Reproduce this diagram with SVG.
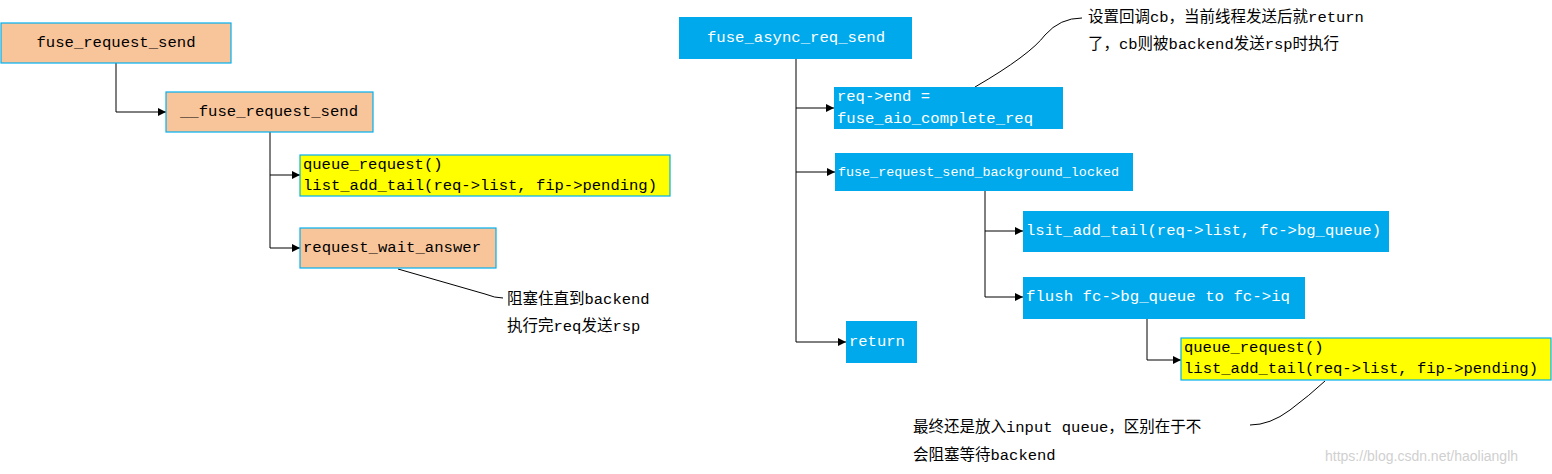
<svg xmlns="http://www.w3.org/2000/svg" width="1552" height="474" viewBox="0 0 1552 474">
<defs>
<style>
.o{fill:#F8C59B;stroke:#00B0F0;stroke-width:1.2}
.y{fill:#FFFF00;stroke:#00B0F0;stroke-width:1.2}
.b{fill:#00A9EC;stroke:none}
text{font-family:"Liberation Mono","Noto Sans CJK SC",monospace;font-size:15.5px;fill:#000;dominant-baseline:central}
.w{fill:#fff}
.c{stroke:#000;stroke-width:1;fill:none}
.n{font-family:"Liberation Mono","Noto Sans CJK SC",monospace;font-size:15.5px}
</style>
<marker id="a" viewBox="0 0 8 8" refX="8" refY="4" markerWidth="8" markerHeight="8" orient="auto" markerUnits="userSpaceOnUse"><path d="M0,0L8,4L0,8z" fill="#000"/></marker>
</defs>
<rect width="1552" height="474" fill="#fff"/>
<g id="connectors">
<path class="c" d="M116,63V112H166" marker-end="url(#a)"/>
<path class="c" d="M270,132V175H300" marker-end="url(#a)"/>
<path class="c" d="M270,175V248H300" marker-end="url(#a)"/>
<path class="c" d="M398,269L485,294Q495,298 503,298"/>
<path class="c" d="M796,59V108H834" marker-end="url(#a)"/>
<path class="c" d="M796,108V172H835" marker-end="url(#a)"/>
<path class="c" d="M796,172V342H846" marker-end="url(#a)"/>
<path class="c" d="M985,191V231H1023" marker-end="url(#a)"/>
<path class="c" d="M985,231V297H1023" marker-end="url(#a)"/>
<path class="c" d="M1147,319V360H1181" marker-end="url(#a)"/>
<path class="c" d="M975,87Q1030,55 1045,35Q1060,18 1082,18"/>
<path class="c" d="M1250,425Q1270,425 1290,410Q1310,395 1325,381"/>
</g>
<g id="n1"><rect class="o" x="1" y="23" width="230" height="40"/><text x="116" y="43" text-anchor="middle" textLength="159" lengthAdjust="spacingAndGlyphs">fuse_request_send</text></g>
<g id="n2"><rect class="o" x="166" y="92" width="207" height="40"/><text x="269" y="112" text-anchor="middle" textLength="178" lengthAdjust="spacingAndGlyphs">__fuse_request_send</text></g>
<g id="n3"><rect class="y" x="300" y="155" width="370" height="41"/><text x="303" y="165">queue_request()</text><text x="303" y="186" textLength="354" lengthAdjust="spacingAndGlyphs">list_add_tail(req-&gt;list, fip-&gt;pending)</text></g>
<g id="n4"><rect class="o" x="300" y="228" width="196" height="40"/><text x="303" y="248" textLength="178" lengthAdjust="spacingAndGlyphs">request_wait_answer</text></g>
<g id="t1"><text x="507" y="300">阻塞住直到backend</text><text x="507" y="327">执行完req发送rsp</text></g>
<g id="r1"><rect class="b" x="679" y="17" width="233" height="42"/><text class="w" x="796" y="38" text-anchor="middle" textLength="178" lengthAdjust="spacingAndGlyphs">fuse_async_req_send</text></g>
<g id="r2"><rect class="b" x="834" y="87" width="229" height="42"/><text class="w" x="837" y="97">req-&gt;end =</text><text class="w" x="837" y="119" textLength="196" lengthAdjust="spacingAndGlyphs">fuse_aio_complete_req</text></g>
<g id="r3"><rect class="b" x="835" y="153" width="298" height="38"/><text class="w" x="838" y="172" style="font-size:13px" textLength="281" lengthAdjust="spacingAndGlyphs">fuse_request_send_background_locked</text></g>
<g id="r4"><rect class="b" x="1023" y="211" width="366" height="41"/><text class="w" x="1026" y="231" textLength="355" lengthAdjust="spacingAndGlyphs">lsit_add_tail(req-&gt;list, fc-&gt;bg_queue)</text></g>
<g id="r5"><rect class="b" x="1023" y="277" width="282" height="42"/><text class="w" x="1026" y="297" textLength="264" lengthAdjust="spacingAndGlyphs">flush fc-&gt;bg_queue to fc-&gt;iq</text></g>
<g id="r6"><rect class="b" x="846" y="321" width="71" height="42"/><text class="w" x="849" y="342">return</text></g>
<g id="r7"><rect class="y" x="1181" y="338" width="370" height="42"/><text x="1184" y="348">queue_request()</text><text x="1184" y="369" textLength="354" lengthAdjust="spacingAndGlyphs">list_add_tail(req-&gt;list, fip-&gt;pending)</text></g>
<g id="t2"><text x="1088" y="18">设置回调cb，当前线程发送后就return</text><text x="1088" y="45">了，cb则被backend发送rsp时执行</text></g>
<g id="t3"><text x="913" y="428">最终还是放入input queue，区别在于不</text><text x="913" y="456">会阻塞等待backend</text></g>
<text x="1325" y="456" style="font-family:'Liberation Sans',sans-serif;font-size:14px;fill:#d0d0d0">https://blog.csdn.net/haolianglh</text>
</svg>
